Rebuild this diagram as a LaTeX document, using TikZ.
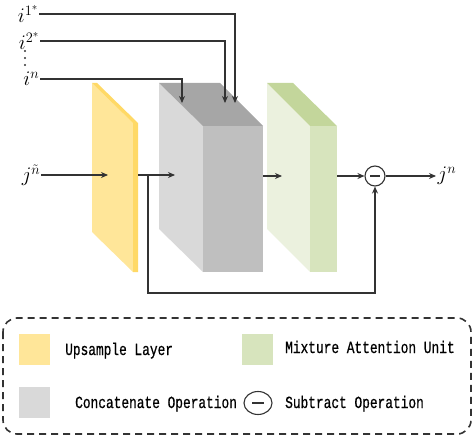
\documentclass[tikz,border=0pt]{standalone}
\usepackage{fontspec}
\newfontfamily\legfont{Liberation Mono}[FakeStretch=0.755,FakeBold=0.6]
\usetikzlibrary{arrows.meta,shapes.geometric}
\definecolor{ylight}{HTML}{FFE699}
\definecolor{ydark}{HTML}{FFD966}
\definecolor{glight}{HTML}{D9D9D9}
\definecolor{gtop}{HTML}{A6A6A6}
\definecolor{gfront}{HTML}{BFBFBF}
\definecolor{nlight}{HTML}{EBF1DE}
\definecolor{ntop}{HTML}{C3D69B}
\definecolor{nfront}{HTML}{D7E4BD}
\definecolor{linec}{HTML}{333333}
\begin{document}
\begin{tikzpicture}[x=1pt,y=-1pt,
  arr/.style={draw=linec,line width=1.1pt,-{Stealth[length=7pt,width=6pt]}},
  ln/.style={draw=linec,line width=1.1pt},
  mlabel/.style={inner sep=0.5pt,font=\fontsize{21}{24}\selectfont},
  legtext/.style={inner sep=0pt,anchor=base west,font=\fontsize{17}{20}\selectfont\legfont},
  legsq/.style={minimum size=31pt,inner sep=0pt},
  dotmark/.style={circle,fill=black!80,inner sep=0pt,minimum size=2.2pt}]
\useasboundingbox (0,0) rectangle (474,436);

% Upsample plate
\fill[ylight] (92,83) -- (133,123) -- (133,272) -- (92,232) -- cycle;
\fill[ydark] (92,83) -- (97,83) -- (138,123) -- (138,272) -- (133,272) -- (133,123) -- cycle;

% Concatenate box
\fill[glight] (159,83) -- (203,126) -- (203,272) -- (159,229) -- cycle;
\fill[gtop] (159,83) -- (220,83) -- (263,126) -- (203,126) -- cycle;
\fill[gfront] (203,126) rectangle (263,272);

% Mixture attention unit
\fill[nlight] (267,83) -- (310,126) -- (310,272) -- (267,229) -- cycle;
\fill[ntop] (267,83) -- (293,83) -- (337,126) -- (310,126) -- cycle;
\fill[nfront] (310,126) rectangle (337,272);

% labels
\node[mlabel,anchor=east] (i1) at (39,14) {$i^{1^*}$};
\node[mlabel,anchor=east] (i2) at (40,41) {$i^{2^*}$};
\node[dotmark] (d1) at (25,51) {};
\node[dotmark] (d2) at (25,58) {};
\node[dotmark] (d3) at (25,65) {};
\node[mlabel,anchor=east] (in) at (40,79) {$i^{n}$};
\node[mlabel,anchor=east] (jin) at (41,175) {$j^{\tilde{n}}$};

% coordinates
\coordinate (c1) at (235,103);
\coordinate (c2) at (225,103);
\coordinate (cn) at (182,103);
\coordinate (upIn) at (108,175);
\coordinate (upOut) at (138,175);
\coordinate (br) at (148,175);
\coordinate (catIn) at (175,175);
\coordinate (catOut) at (263,176);
\coordinate (mauIn) at (282,176);
\coordinate (mauOut) at (337,176);
\coordinate (bb) at (148,293);
\coordinate (outEnd) at (436,176);

\node[circle,draw=linec,line width=1.1pt,minimum size=20pt,inner sep=0pt] (sub) at (375,176) {};
\draw[ln] ([xshift=-5pt]sub.center) -- ([xshift=5pt]sub.center);
\node[mlabel,anchor=west] (jout) at (437,176) {$j^{n}$};

% connectors
\draw[arr] (i1.east) -| (c1);
\draw[arr] (i2.east) -| (c2);
\draw[arr] (in.east) -| (cn);
\draw[arr] (jin.east) -- (upIn);
\draw[arr] (upOut) -- (catIn);
\draw[arr] (catOut) -- (mauIn);
\draw[arr] (mauOut) -- (sub.west);
\draw[arr] (sub.east) -- (outEnd);
\draw[arr] (br) -- (bb) -| (sub.south);

% legend
\draw[draw=linec,line width=1.6pt,dash pattern=on 7pt off 5pt,rounded corners=14pt] (3,318) rectangle (471,434);
\node[legsq,fill=ylight] (lyel) at (34.5,349) {};
\node[legsq,fill=nfront] (lgrn) at (257.5,349) {};
\node[legsq,fill=glight] (lgry) at (34.5,402.5) {};
\node[ellipse,draw=linec,line width=1.1pt,minimum width=28pt,minimum height=23pt,inner sep=0pt] (lsub) at (258,403) {};
\draw[ln] ([xshift=-6pt]lsub.center) -- ([xshift=6pt]lsub.center);
\node[legtext] (t1) at (65,355) {Upsample Layer};
\node[legtext] (t2) at (285,353) {Mixture Attention Unit};
\node[legtext] (t3) at (75,408) {Concatenate Operation};
\node[legtext] (t4) at (285,408) {Subtract Operation};
\end{tikzpicture}
\end{document}
